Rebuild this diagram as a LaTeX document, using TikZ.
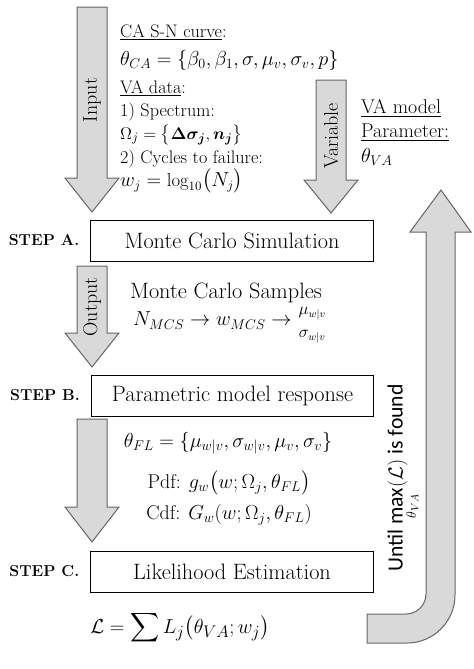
\documentclass[tikz,border=0pt]{standalone}
\usepackage{amsmath}
\usepackage{bm}
\usepackage{fontspec}
\newfontfamily\calfont{Carlito}
\usetikzlibrary{positioning}
\tikzset{
  blockarrow/.style = {fill=gray!30, draw=black!60, line width=0.3mm},
  stepbox/.style = {draw=black, line width=0.3mm, minimum width=8.46cm, minimum height=1.23cm, inner sep=0pt, font=\fontsize{19}{22}\selectfont},
  steplabel/.style = {font=\bfseries\fontsize{13.5}{15}\selectfont, inner sep=0pt},
  arrowlabel/.style = {rotate=90, inner sep=0pt, font=\fontsize{17}{20}\selectfont},
  txt/.style = {inner sep=0pt, font=\fontsize{17}{20}\selectfont},
  line/.style = {txt, anchor=base west, font=\fontsize{15.5}{18}\selectfont},
}
\newcommand{\blkdown}[4]{% centre x, top y, head y, tip y
  \draw[blockarrow] (#1-15,#2) -- (#1+15,#2) -- (#1+15,#3) -- (#1+27,#3)
    -- (#1,#4) -- (#1-27,#3) -- (#1-15,#3) -- cycle;}

\begin{document}
\begin{tikzpicture}[x=0.03cm, y=-0.03cm]
  \useasboundingbox (0,0) rectangle (474,669);

  % block arrows
  \blkdown{92}{7}{178}{212}
  \blkdown{331}{80}{180}{213}
  \blkdown{92}{266}{333}{367}
  \blkdown{92}{419}{507}{542}
  \draw[blockarrow] (441,190) -- (471,232) -- (455,232) -- (455,595)
    .. controls (455,621.5) and (433.5,643) .. (407,643) -- (367,643)
    -- (367,614) -- (406,614) .. controls (417,614) and (426,605) .. (426,594)
    -- (426,232) -- (410,232) -- cycle;

  \node[arrowlabel] (input) at (92,100) {Input};
  \node[arrowlabel] (variable) at (331,136) {Variable};
  \node[arrowlabel] (output) at (92,307) {Output};

  % steps
  \node[stepbox] (boxMC) at (232,240.5) {Monte Carlo Simulation};
  \node[stepbox] (boxPM) at (232.5,395.5) {Parametric model response};
  \node[stepbox] (boxLE) at (232,571.5) {Likelihood Estimation};
  \node[steplabel, left=0.33cm of boxMC] (stepA) {STEP A.};
  \node[steplabel, left=0.33cm of boxPM] (stepB) {STEP B.};
  \node[steplabel, left=0.33cm of boxLE] (stepC) {STEP C.};

  % inputs
  \node[line] (caSN) at (120,37) {\underline{CA S-N curve}:};
  \node[line, font=\fontsize{16.5}{18}\selectfont] (thetaCA) at (120,65) {$\theta_{CA}=\{\beta_0,\beta_1,\sigma,\mu_v,\sigma_v,p\}$};
  \node[line] (vaData) at (120,93) {\underline{VA data}:};
  \node[line] (spectrum) at (120,116) {1) Spectrum:};
  \node[line] (omega) at (120,139) {$\Omega_j=\smash{\bigl\{\bm{\Delta\sigma_j},\bm{n_j}\bigr\}}$};
  \node[line] (cycles) at (120,163) {2) Cycles to failure:};
  \node[line, font=\fontsize{16}{18}\selectfont] (wj) at (120,186) {$w_j=\log_{10}\bigl(N_j\bigr)$};
  \node[line, font=\fontsize{17}{20}\selectfont] (vaModel) at (361,113) {\underline{VA model}};
  \node[line, font=\fontsize{17}{20}\selectfont] (param) at (361,137) {\underline{Parameter:}};
  \node[line, font=\fontsize{17}{20}\selectfont] (thetaVA) at (361,162) {$\theta_{VA}$};

  % samples and response
  \node[txt, font=\fontsize{19}{22}\selectfont] (samples) at (226,293) {Monte Carlo Samples};
  \node[txt, anchor=west, font=\fontsize{16.5}{19}\selectfont] (chain) at (133,325)
    {$N_{MCS}\rightarrow w_{MCS}\rightarrow\text{\fontsize{13.5}{15}\selectfont$\genfrac{}{}{0pt}{0}{\mu_{w|v}}{\sigma_{w|v}}$}$};
  \node[txt] (thetaFL) at (228,443) {$\theta_{FL}=\{\mu_{w|v},\sigma_{w|v},\mu_v,\sigma_v\}$};
  \node[txt] (pdf) at (229,483) {Pdf: $g_w\bigl(w;\Omega_j,\theta_{FL}\bigr)$};
  \node[txt] (cdf) at (229,515) {Cdf: $G_w(w;\Omega_j,\theta_{FL})$};
  \node[txt, font=\fontsize{19}{22}\selectfont] (lik) at (180,628)
    {$\mathcal{L}=\displaystyle\sum L_j\bigl(\theta_{VA};w_j\bigr)$};

  \node[txt, rotate=90, font=\calfont\fontsize{18.5}{21}\selectfont] (until) at (404,478)
    {Until $\underset{\theta_{VA}}{\text{max}}(\mathcal{L})$ is found};
\end{tikzpicture}
\end{document}
